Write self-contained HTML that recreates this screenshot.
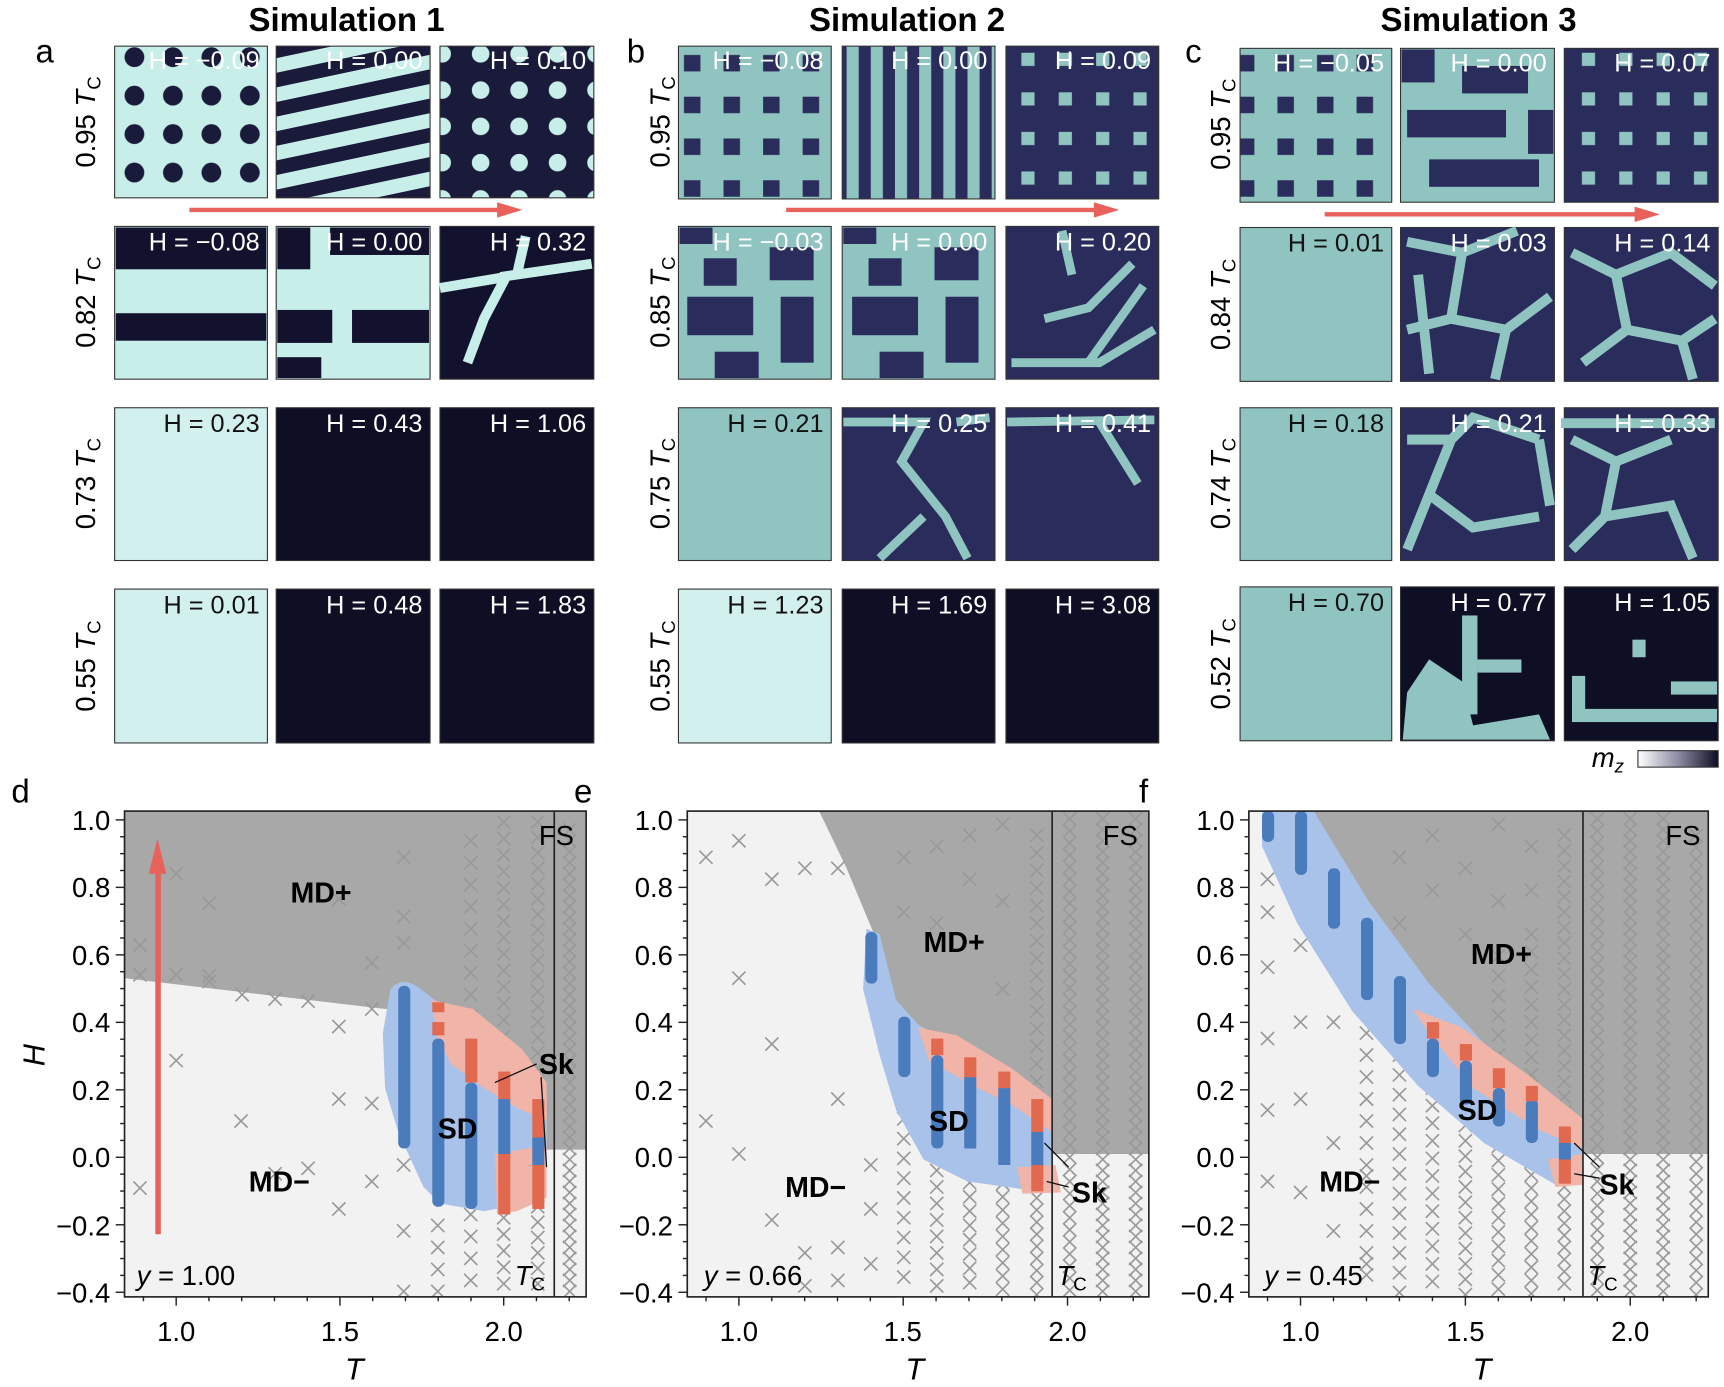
<!DOCTYPE html>
<html><head><meta charset="utf-8"><style>
html,body{margin:0;padding:0;background:#fff;}
svg{display:block;font-family:"Liberation Sans",sans-serif;}
</style></head><body>
<svg id="s" width="1724" height="1387" viewBox="0 0 1568 1262" xmlns="http://www.w3.org/2000/svg">
<defs>
<pattern id="dotsL" width="35" height="35" patternUnits="userSpaceOnUse"><rect width="35" height="35" fill="#c8eeea"/><circle cx="17" cy="17" r="9" fill="#1a1a3a"/></pattern>
<pattern id="stripes" width="26" height="26" patternUnits="userSpaceOnUse" patternTransform="rotate(-12)"><rect width="26" height="26" fill="#c8eeea"/><rect y="13" width="26" height="13" fill="#1a1a3a"/></pattern>
<pattern id="dotsD" width="35" height="33" patternUnits="userSpaceOnUse"><rect width="35" height="35" fill="#1a1a3a"/><circle cx="17" cy="16" r="8" fill="#c8eeea"/></pattern>
<pattern id="tdotsL" width="36" height="38" patternUnits="userSpaceOnUse"><rect width="36" height="38" fill="#90c4c0"/><rect x="10" y="12" width="15" height="15" fill="#2a2d5c"/></pattern>
<pattern id="tstr" width="22" height="22" patternUnits="userSpaceOnUse"><rect width="22" height="22" fill="#90c4c0"/><rect x="11" width="11" height="22" fill="#2a2d5c"/></pattern>
<pattern id="tdotsD" width="34" height="36" patternUnits="userSpaceOnUse"><rect width="34" height="36" fill="#2a2d5c"/><rect x="11" y="12" width="12" height="12" fill="#90c4c0"/></pattern>
<linearGradient id="cb"><stop offset="0" stop-color="#fff"/><stop offset="0.5" stop-color="#8c8ca4"/><stop offset="1" stop-color="#0e0e22"/></linearGradient>
<clipPath id="cd"><rect x="113" y="738" width="420" height="442"/></clipPath>
<clipPath id="ce"><rect x="625" y="738" width="420" height="442"/></clipPath>
<clipPath id="cf"><rect x="1136" y="738" width="418" height="442"/></clipPath>
</defs>

<g font-weight="bold" font-size="30" text-anchor="middle">
<text x="315" y="28">Simulation 1</text><text x="825" y="28">Simulation 2</text><text x="1345" y="28">Simulation 3</text></g>
<g font-size="30"><text x="32" y="57">a</text><text x="570" y="57">b</text><text x="1078" y="57">c</text>
<text x="10" y="730">d</text><text x="522" y="730">e</text><text x="1036" y="730">f</text></g>

<!-- Sim1 tiles -->
<g stroke="#333" stroke-width="1">
<rect x="104" y="42" width="139" height="138" fill="url(#dotsL)"/>
<rect x="251" y="42" width="140" height="138" fill="url(#stripes)"/>
<rect x="400" y="42" width="140" height="138" fill="url(#dotsD)"/>
<rect x="104" y="206" width="139" height="139" fill="#c8eeea"/>
<rect x="251" y="206" width="140" height="139" fill="#c8eeea"/>
<rect x="400" y="206" width="140" height="139" fill="#12122e"/>
<rect x="104" y="371" width="139" height="139" fill="#d2f0ee"/>
<rect x="251" y="371" width="140" height="139" fill="#0e0e24"/>
<rect x="400" y="371" width="140" height="139" fill="#0e0e24"/>
<rect x="104" y="536" width="139" height="140" fill="#d2f0ee"/>
<rect x="251" y="536" width="140" height="140" fill="#0e0e24"/>
<rect x="400" y="536" width="140" height="140" fill="#0e0e24"/>
</g>
<g fill="#12122e">
<rect x="105" y="207" width="137" height="38"/><rect x="105" y="285" width="137" height="25"/>
<rect x="252" y="207" width="30" height="38"/><rect x="300" y="207" width="90" height="25"/><rect x="252" y="282" width="50" height="30"/><rect x="320" y="282" width="70" height="30"/><rect x="252" y="325" width="40" height="19"/>
</g>
<g fill="none" stroke="#c8eeea" stroke-width="9"><path d="M400,262 L460,252 L440,290 L425,330 M455,252 L538,240 M470,250 L478,215"/></g>
<!-- Sim2 tiles -->
<g stroke="#333" stroke-width="1">
<rect x="617" y="42" width="139" height="139" fill="url(#tdotsL)"/>
<rect x="766" y="42" width="139" height="139" fill="url(#tstr)"/>
<rect x="915" y="42" width="139" height="139" fill="url(#tdotsD)"/>
<rect x="617" y="206" width="139" height="139" fill="#90c4c0"/>
<rect x="766" y="206" width="139" height="139" fill="#90c4c0"/>
<rect x="915" y="206" width="139" height="139" fill="#2a2d5c"/>
<rect x="617" y="371" width="139" height="139" fill="#90c4c0"/>
<rect x="766" y="371" width="139" height="139" fill="#2a2d5c"/>
<rect x="915" y="371" width="139" height="139" fill="#2a2d5c"/>
<rect x="617" y="536" width="139" height="140" fill="#d2f0ee"/>
<rect x="766" y="536" width="139" height="140" fill="#0e0e24"/>
<rect x="915" y="536" width="139" height="140" fill="#0e0e24"/>
</g>
<g fill="#2a2d5c">
<rect x="618" y="207" width="30" height="15"/><rect x="640" y="235" width="30" height="25"/><rect x="700" y="225" width="40" height="30"/><rect x="625" y="270" width="60" height="35"/><rect x="710" y="270" width="30" height="60"/><rect x="650" y="320" width="40" height="24"/>
<rect x="767" y="207" width="30" height="15"/><rect x="790" y="235" width="30" height="25"/><rect x="850" y="225" width="40" height="30"/><rect x="775" y="270" width="60" height="35"/><rect x="860" y="270" width="30" height="60"/><rect x="800" y="320" width="40" height="24"/>
</g>
<g fill="none" stroke="#90c4c0" stroke-width="8"><path d="M920,330 L1000,330 L1050,300 M990,330 L1040,260 M950,290 L990,280 L1030,240 M966,210 L975,250"/>
<path d="M767,384 L840,384 L820,420 L860,470 L880,508 M840,470 L800,508 M870,384 L900,380"/><path d="M916,384 L1050,382 M1000,384 L1035,440"/></g>
<!-- Sim3 tiles -->
<g stroke="#333" stroke-width="1">
<rect x="1128" y="44" width="138" height="140" fill="url(#tdotsL)"/>
<rect x="1274" y="44" width="140" height="140" fill="#90c4c0"/>
<rect x="1423" y="44" width="140" height="140" fill="url(#tdotsD)"/>
<rect x="1128" y="207" width="138" height="140" fill="#90c4c0"/>
<rect x="1274" y="207" width="140" height="140" fill="#2a2d5c"/>
<rect x="1423" y="207" width="140" height="140" fill="#2a2d5c"/>
<rect x="1128" y="371" width="138" height="139" fill="#90c4c0"/>
<rect x="1274" y="371" width="140" height="139" fill="#2a2d5c"/>
<rect x="1423" y="371" width="140" height="139" fill="#2a2d5c"/>
<rect x="1128" y="534" width="138" height="140" fill="#90c4c0"/>
<rect x="1274" y="534" width="140" height="140" fill="#0e0e24"/>
<rect x="1423" y="534" width="140" height="140" fill="#0e0e24"/>
</g>
<g fill="#2a2d5c"><rect x="1275" y="45" width="30" height="30"/><rect x="1330" y="60" width="60" height="25"/><rect x="1280" y="100" width="90" height="25"/><rect x="1300" y="145" width="100" height="25"/><rect x="1390" y="100" width="23" height="40"/></g>
<g fill="none" stroke="#90c4c0" stroke-width="9">
<path d="M1280,220 L1330,230 L1380,210 M1330,230 L1320,290 L1280,300 M1320,290 L1370,300 L1410,270 M1370,300 L1360,345 M1290,250 L1300,340"/>
<path d="M1430,230 L1470,250 L1520,230 L1560,260 M1470,250 L1480,300 L1440,330 M1480,300 L1530,310 L1560,290 M1530,310 L1540,345"/>
<path d="M1280,400 L1320,400 L1340,380 L1400,400 M1320,400 L1300,450 L1340,480 L1400,470 M1300,450 L1280,500 M1400,400 L1410,460"/>
<path d="M1430,400 L1470,420 L1520,400 M1470,420 L1460,470 L1430,500 M1460,470 L1520,460 L1540,508"/>
<path d="M1420,385 L1560,385"/></g>
<g fill="#90c4c0"><path d="M1280,630 L1300,600 L1330,620 L1340,660 L1400,650 L1410,673 L1276,673 Z"/><rect x="1330" y="560" width="14" height="90"/><rect x="1344" y="600" width="40" height="12"/><rect x="1430" y="645" width="132" height="12"/><rect x="1430" y="615" width="12" height="40"/><rect x="1485" y="582" width="12" height="16"/><rect x="1520" y="620" width="42" height="12"/></g>

<!-- tile labels -->
<g font-size="23" text-anchor="end" fill="#fff">
<text x="236" y="63">H = −0.09</text><text x="384" y="63">H = 0.00</text><text x="533" y="63">H = 0.10</text>
<text x="236" y="228">H = −0.08</text><text x="384" y="228">H = 0.00</text><text x="533" y="228">H = 0.32</text>
<text x="384" y="393">H = 0.43</text><text x="533" y="393">H = 1.06</text>
<text x="384" y="558">H = 0.48</text><text x="533" y="558">H = 1.83</text>
<text x="749" y="63">H = −0.08</text><text x="898" y="63">H = 0.00</text><text x="1047" y="63">H = 0.09</text>
<text x="749" y="228">H = −0.03</text><text x="898" y="228">H = 0.00</text><text x="1047" y="228">H = 0.20</text>
<text x="898" y="393">H = 0.25</text><text x="1047" y="393">H = 0.41</text>
<text x="898" y="558">H = 1.69</text><text x="1047" y="558">H = 3.08</text>
<text x="1259" y="65">H = −0.05</text><text x="1407" y="65">H = 0.00</text><text x="1556" y="65">H = 0.07</text>
<text x="1407" y="229">H = 0.03</text><text x="1556" y="229">H = 0.14</text>
<text x="1407" y="393">H = 0.21</text><text x="1556" y="393">H = 0.33</text>
<text x="1407" y="556">H = 0.77</text><text x="1556" y="556">H = 1.05</text>
</g>
<g font-size="23" text-anchor="end" fill="#111">
<text x="236" y="393">H = 0.23</text><text x="236" y="558">H = 0.01</text>
<text x="749" y="393">H = 0.21</text><text x="749" y="558">H = 1.23</text>
<text x="1259" y="229">H = 0.01</text><text x="1259" y="393">H = 0.18</text><text x="1259" y="556">H = 0.70</text>
</g>
<!-- row labels -->
<g font-size="25" text-anchor="middle">
<text transform="translate(86,111) rotate(-90)">0.95 <tspan font-style="italic">T</tspan><tspan font-size="17" dy="5">C</tspan></text>
<text transform="translate(86,275) rotate(-90)">0.82 <tspan font-style="italic">T</tspan><tspan font-size="17" dy="5">C</tspan></text>
<text transform="translate(86,440) rotate(-90)">0.73 <tspan font-style="italic">T</tspan><tspan font-size="17" dy="5">C</tspan></text>
<text transform="translate(86,606) rotate(-90)">0.55 <tspan font-style="italic">T</tspan><tspan font-size="17" dy="5">C</tspan></text>
<text transform="translate(609,111) rotate(-90)">0.95 <tspan font-style="italic">T</tspan><tspan font-size="17" dy="5">C</tspan></text>
<text transform="translate(609,275) rotate(-90)">0.85 <tspan font-style="italic">T</tspan><tspan font-size="17" dy="5">C</tspan></text>
<text transform="translate(609,440) rotate(-90)">0.75 <tspan font-style="italic">T</tspan><tspan font-size="17" dy="5">C</tspan></text>
<text transform="translate(609,606) rotate(-90)">0.55 <tspan font-style="italic">T</tspan><tspan font-size="17" dy="5">C</tspan></text>
<text transform="translate(1119,113) rotate(-90)">0.95 <tspan font-style="italic">T</tspan><tspan font-size="17" dy="5">C</tspan></text>
<text transform="translate(1119,277) rotate(-90)">0.84 <tspan font-style="italic">T</tspan><tspan font-size="17" dy="5">C</tspan></text>
<text transform="translate(1119,440) rotate(-90)">0.74 <tspan font-style="italic">T</tspan><tspan font-size="17" dy="5">C</tspan></text>
<text transform="translate(1119,604) rotate(-90)">0.52 <tspan font-style="italic">T</tspan><tspan font-size="17" dy="5">C</tspan></text>
</g>
<!-- arrows -->
<g stroke="#e8615a" stroke-width="4" fill="#e8615a">
<line x1="172" y1="191" x2="455" y2="191"/><path d="M475,191 L452,184 L452,198 Z" stroke="none"/>
<line x1="715" y1="191" x2="998" y2="191"/><path d="M1018,191 L995,184 L995,198 Z" stroke="none"/>
<line x1="1205" y1="195" x2="1490" y2="195"/><path d="M1510,195 L1487,188 L1487,202 Z" stroke="none"/>
</g>
<!-- colorbar -->
<text x="1448" y="698" font-size="25" font-style="italic">m<tspan font-size="17" dy="5">z</tspan></text>
<rect x="1490" y="683" width="73" height="15" fill="url(#cb)" stroke="#333"/>

<!-- Plot d -->
<g clip-path="url(#cd)">
<rect x="113" y="738" width="420" height="442" fill="#f2f2f2"/>
<path d="M113,738 H533 V1046 H497 L497,1000 L440,960 L400,920 L350,918 L113,890 Z" fill="#a8a8a8"/>
<g id="xd"></g>
<path d="M355,900 Q365,888 380,898 L398,912 L430,950 L470,985 L497,1010 L497,1060 L480,1095 L440,1102 L400,1095 L385,1080 L362,1030 L350,990 L348,940 Z" fill="#a9c2ea"/>
<path d="M392,910 L430,918 L475,955 L497,985 L497,1020 L470,1008 L440,990 L410,968 L398,945 Z" fill="#f0b4a8"/>
<path d="M450,1050 L497,1042 L497,1090 L470,1102 L452,1105 Z" fill="#f0b4a8"/>
<g fill="#4a7bbd"><rect x="362" y="897" width="11" height="148" rx="5"/><rect x="393" y="945" width="11" height="153" rx="5"/><rect x="423" y="985" width="11" height="115" rx="5"/><rect x="453" y="1000" width="11" height="50"/><rect x="484" y="1035" width="11" height="25"/></g>
<g fill="#e0694f"><rect x="393" y="912" width="11" height="9"/><rect x="393" y="930" width="11" height="12"/><rect x="423" y="945" width="11" height="40"/><rect x="453" y="975" width="11" height="25"/><rect x="453" y="1050" width="11" height="55"/><rect x="484" y="1000" width="11" height="35"/><rect x="484" y="1060" width="11" height="40"/></g>
<line x1="504" y1="738" x2="504" y2="1180" stroke="#222" stroke-width="1.5"/>
<rect x="141" y="785" width="5" height="338" fill="#e8615a"/><path d="M143,763 L135,795 L151,795 Z" fill="#e8615a"/>
</g>
<rect x="113" y="738" width="420" height="442" fill="none" stroke="#222" stroke-width="1.5"/>
<g font-weight="bold" font-size="26"><text x="264" y="821">MD+</text><text x="398" y="1036">SD</text><text x="226" y="1084">MD−</text><text x="490" y="977">Sk</text></g>
<path d="M488,968 L450,985 M492,980 L497,1062" stroke="#111" stroke-width="1.2" fill="none"/>
<text x="490" y="769" font-size="25">FS</text>
<text x="124" y="1169" font-size="25"><tspan font-style="italic">y</tspan> = 1.00</text>
<text x="468" y="1169" font-size="25" font-style="italic">T<tspan font-size="17" dy="5" font-style="normal">C</tspan></text>

<!-- Plot e -->
<g clip-path="url(#ce)">
<rect x="625" y="738" width="420" height="442" fill="#f2f2f2"/>
<path d="M745,738 H1045 V1050 H957 L957,1000 L900,965 L830,935 L812,905 L795,850 L770,790 Z" fill="#a8a8a8"/>
<g id="xe"></g>
<path d="M788,845 L800,850 L815,910 L835,932 L880,958 L940,995 L957,1025 L957,1065 L930,1082 L880,1075 L840,1055 L815,1010 L800,960 L785,900 Z" fill="#a9c2ea"/>
<path d="M835,935 L870,942 L920,972 L957,1000 L957,1030 L920,1005 L880,985 L845,965 Z" fill="#f0b4a8"/>
<path d="M925,1062 L960,1060 L965,1085 L930,1086 Z" fill="#f0b4a8"/>
<g fill="#4a7bbd"><rect x="787" y="848" width="11" height="47" rx="5"/><rect x="817" y="925" width="11" height="55" rx="5"/><rect x="847" y="960" width="11" height="85" rx="5"/><rect x="877" y="980" width="11" height="65"/><rect x="908" y="990" width="11" height="70"/><rect x="938" y="1030" width="11" height="30"/></g>
<g fill="#e0694f"><rect x="847" y="945" width="11" height="15"/><rect x="877" y="962" width="11" height="18"/><rect x="908" y="975" width="11" height="15"/><rect x="938" y="1000" width="11" height="30"/><rect x="938" y="1060" width="11" height="24"/></g>
<line x1="957" y1="738" x2="957" y2="1180" stroke="#222" stroke-width="1.5"/>
</g>
<rect x="625" y="738" width="420" height="442" fill="none" stroke="#222" stroke-width="1.5"/>
<g font-weight="bold" font-size="26"><text x="840" y="866">MD+</text><text x="845" y="1029">SD</text><text x="714" y="1089">MD−</text><text x="975" y="1094">Sk</text></g>
<path d="M972,1080 L952,1075 M972,1062 L950,1040" stroke="#111" stroke-width="1.2" fill="none"/>
<text x="1003" y="769" font-size="25">FS</text>
<text x="640" y="1169" font-size="25"><tspan font-style="italic">y</tspan> = 0.66</text>
<text x="961" y="1169" font-size="25" font-style="italic">T<tspan font-size="17" dy="5" font-style="normal">C</tspan></text>

<!-- Plot f -->
<g clip-path="url(#cf)">
<rect x="1136" y="738" width="418" height="442" fill="#f2f2f2"/>
<path d="M1190,738 H1554 V1050 H1440 L1440,1030 L1380,975 L1310,915 L1250,835 Z" fill="#a8a8a8"/>
<g id="xf"></g>
<path d="M1148,738 L1195,738 L1245,820 L1300,895 L1360,960 L1420,1008 L1440,1030 L1440,1075 L1415,1078 L1350,1040 L1290,988 L1230,920 L1180,840 L1148,770 Z" fill="#a9c2ea"/>
<path d="M1285,918 L1330,935 L1390,978 L1440,1018 L1440,1045 L1400,1028 L1340,990 L1300,940 Z" fill="#f0b4a8"/>
<path d="M1408,1055 L1440,1050 L1440,1078 L1415,1080 Z" fill="#f0b4a8"/>
<g fill="#4a7bbd"><rect x="1148" y="738" width="11" height="28" rx="5"/><rect x="1178" y="738" width="11" height="58" rx="5"/><rect x="1208" y="790" width="11" height="55" rx="5"/><rect x="1238" y="835" width="11" height="75" rx="5"/><rect x="1268" y="888" width="11" height="62" rx="5"/><rect x="1298" y="945" width="11" height="35" rx="5"/><rect x="1328" y="965" width="11" height="40" rx="5"/><rect x="1358" y="990" width="11" height="35" rx="5"/><rect x="1388" y="1000" width="11" height="40" rx="5"/><rect x="1418" y="1040" width="11" height="15"/></g>
<g fill="#e0694f"><rect x="1298" y="930" width="11" height="15"/><rect x="1328" y="950" width="11" height="15"/><rect x="1358" y="972" width="11" height="18"/><rect x="1388" y="988" width="11" height="14"/><rect x="1418" y="1025" width="11" height="15"/><rect x="1418" y="1055" width="11" height="22"/></g>
<line x1="1440" y1="738" x2="1440" y2="1180" stroke="#222" stroke-width="1.5"/>
</g>
<rect x="1136" y="738" width="418" height="442" fill="none" stroke="#222" stroke-width="1.5"/>
<g font-weight="bold" font-size="26"><text x="1338" y="877">MD+</text><text x="1326" y="1019">SD</text><text x="1200" y="1084">MD−</text><text x="1455" y="1087">Sk</text></g>
<path d="M1455,1062 L1432,1040 M1455,1072 L1432,1068" stroke="#111" stroke-width="1.2" fill="none"/>
<text x="1515" y="769" font-size="25">FS</text>
<text x="1150" y="1169" font-size="25"><tspan font-style="italic">y</tspan> = 0.45</text>
<text x="1444" y="1169" font-size="25" font-style="italic">T<tspan font-size="17" dy="5" font-style="normal">C</tspan></text>

<!-- axis tick labels -->
<g font-size="25" text-anchor="end">
<text x="100" y="755">1.0</text><text x="100" y="816">0.8</text><text x="100" y="878">0.6</text><text x="100" y="939">0.4</text><text x="100" y="1001">0.2</text><text x="100" y="1062">0.0</text><text x="100" y="1124">−0.2</text><text x="100" y="1185">−0.4</text>
<text x="612" y="755">1.0</text><text x="612" y="816">0.8</text><text x="612" y="878">0.6</text><text x="612" y="939">0.4</text><text x="612" y="1001">0.2</text><text x="612" y="1062">0.0</text><text x="612" y="1124">−0.2</text><text x="612" y="1185">−0.4</text>
<text x="1123" y="755">1.0</text><text x="1123" y="816">0.8</text><text x="1123" y="878">0.6</text><text x="1123" y="939">0.4</text><text x="1123" y="1001">0.2</text><text x="1123" y="1062">0.0</text><text x="1123" y="1124">−0.2</text><text x="1123" y="1185">−0.4</text>
</g>
<g font-size="25" text-anchor="middle">
<text x="160" y="1220">1.0</text><text x="309" y="1220">1.5</text><text x="458" y="1220">2.0</text>
<text x="672" y="1220">1.0</text><text x="821" y="1220">1.5</text><text x="971" y="1220">2.0</text>
<text x="1183" y="1220">1.0</text><text x="1333" y="1220">1.5</text><text x="1483" y="1220">2.0</text>
</g>
<g font-size="28" font-style="italic" text-anchor="middle">
<text x="322" y="1255">T</text><text x="832" y="1255">T</text><text x="1348" y="1255">T</text>
<text transform="translate(40,960) rotate(-90)">H</text>
</g>
<g id="ticks" stroke="#222" stroke-width="1.3"></g>
</svg>
<script>
var NS="http://www.w3.org/2000/svg";
function el(p,t,a){var e=document.createElementNS(NS,t);for(var k in a)e.setAttribute(k,a[k]);p.appendChild(e);return e;}
function X(g,x,y){el(g,"path",{d:"M"+(x-6)+","+(y-6)+"L"+(x+6)+","+(y+6)+"M"+(x-6)+","+(y+6)+"L"+(x+6)+","+(y-6),stroke:"#999","stroke-width":"1.5",fill:"none"});}
function col(g,x,y1,y2,st){for(var y=y1;y<=y2;y+=st)X(g,x,y);}
var gd=document.getElementById("xd");
[[127,860],[127,887],[127,1081],[160,795],[160,887],[160,965],[190,822],[190,888],[190,893],[219,1020],[220,905],[250,909],[250,1068],[280,911],[280,1063],[308,818],[308,1000],[308,934],[308,1100],[338,876],[338,918],[338,1004],[338,1075],[367,780],[367,834],[367,858],[367,1060],[367,1120],[367,1175],[398,1115],[398,1135],[398,1155],[398,1175]].forEach(function(p){X(gd,p[0],p[1]);});
col(gd,428,765,1175,20);col(gd,458,748,1178,15);col(gd,489,748,1178,14);col(gd,518,755,1178,10);
var ge=document.getElementById("xe");
[[642,780],[642,1020],[672,765],[672,1050],[702,800],[702,1110],[732,790],[732,1140],[762,790],[762,1135],[762,1165],[792,1100],[792,1150],[792,1060],[762,1000],[732,1170],[702,950],[672,890],[822,780],[822,830],[852,770],[852,840],[882,760],[882,800],[912,750],[912,820],[912,900]].forEach(function(p){X(ge,p[0],p[1]);});
col(ge,822,1000,1178,18);col(ge,852,1050,1178,15);col(ge,882,1050,1178,13);col(ge,912,1065,1178,12);col(ge,943,760,995,16);col(ge,943,1090,1178,11);col(ge,973,745,1178,11);col(ge,1003,745,1178,10);col(ge,1033,745,1178,10);
var gf=document.getElementById("xf");
[[1153,800],[1153,830],[1153,880],[1153,945],[1153,1010],[1153,1075],[1183,860],[1183,930],[1183,1000],[1183,1085],[1213,870],[1213,930],[1213,1040],[1213,1120],[1243,1000],[1243,1070],[1243,1150],[1273,780],[1273,840],[1303,760],[1303,810],[1333,790],[1333,850],[1363,750],[1363,820],[1393,770],[1393,810]].forEach(function(p){X(gf,p[0],p[1]);});
col(gf,1243,920,1178,20);col(gf,1273,960,1178,18);col(gf,1303,990,1178,16);col(gf,1333,1010,1178,14);col(gf,1363,870,960,18);col(gf,1363,1030,1178,13);col(gf,1393,850,980,16);col(gf,1393,1045,1178,12);col(gf,1423,760,1020,14);col(gf,1423,1080,1178,11);col(gf,1453,745,1178,11);col(gf,1483,745,1178,10);col(gf,1513,745,1178,10);col(gf,1543,760,1178,11);
var gt=document.getElementById("ticks");
[[113,160,298],[625,672,299],[1136,1183,300]].forEach(function(a){
 var x0=a[0];
 for(var i=0;i<=28;i++){var y=746+i*15.35;var L=(i%4==0)?8:4;el(gt,"line",{x1:x0,x2:x0-L,y1:y,y2:y});}
 for(var t=9;t<=22;t++){var x=a[1]+(t/10-1)*a[2];var L=(t%5==0)?8:4;el(gt,"line",{x1:x,x2:x,y1:1180,y2:1180+L});}
});
</script>
</body></html>
